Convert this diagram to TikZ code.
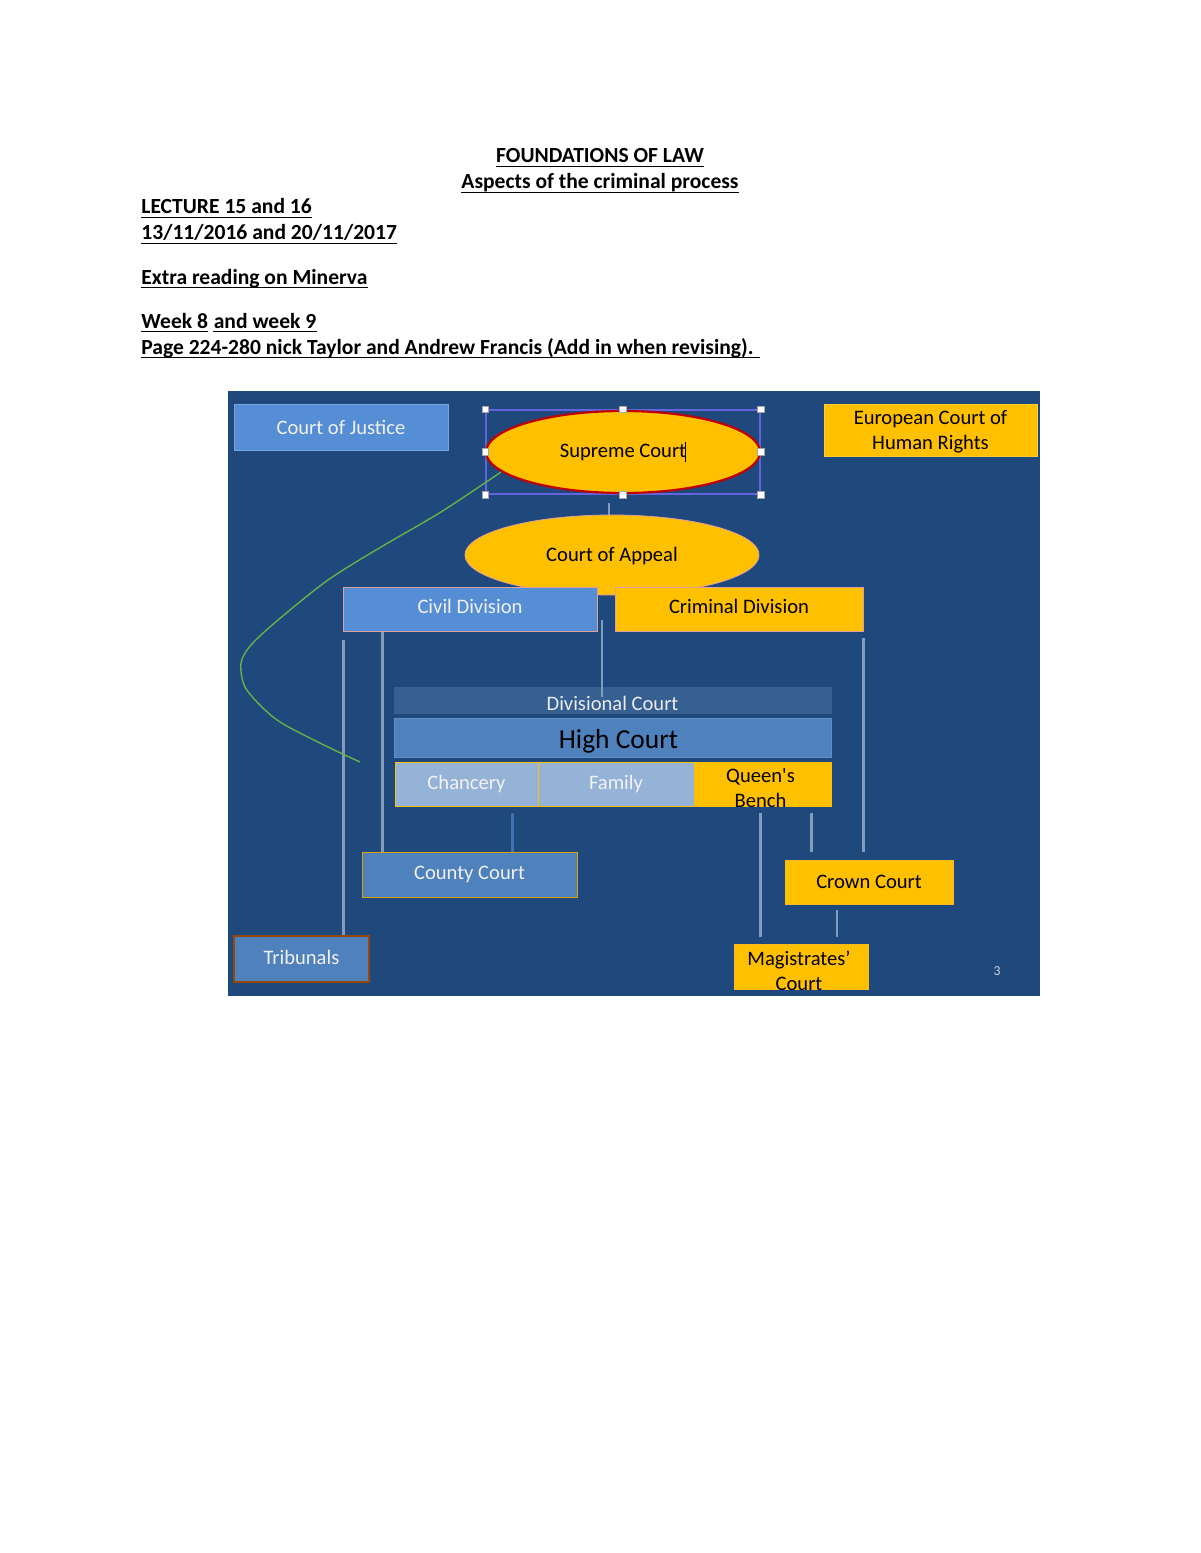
\documentclass[tikz,border=0pt]{standalone}
\usepackage{fontspec}
\setmainfont{Carlito}
\usetikzlibrary{positioning,calc,shapes.geometric}

\definecolor{slideblue}{RGB}{31,73,125}
\definecolor{lightblue}{RGB}{85,142,213}
\definecolor{courtblue}{RGB}{79,129,189}
\definecolor{divblue}{RGB}{54,96,146}
\definecolor{paleblue}{RGB}{149,179,215}
\definecolor{gold}{RGB}{255,192,0}
\definecolor{linkgrey}{RGB}{132,155,188}
\definecolor{rose}{RGB}{220,160,160}
\definecolor{darkred}{RGB}{192,0,0}
\definecolor{brownedge}{RGB}{151,72,6}
\definecolor{selblue}{RGB}{100,100,220}
\definecolor{freehand}{RGB}{100,180,70}

\begin{document}
\begin{tikzpicture}[x=0.51pt,y=-0.51pt,
    head/.style={anchor=base west, inner sep=0pt, font=\fontsize{11}{13}\selectfont\bfseries},
    box/.style={rectangle, draw, inner sep=0pt, align=center, font=\fontsize{10.5}{12.6}\selectfont},
    bluebox/.style={box, fill=courtblue, text=white!94!black},
    goldbox/.style={box, fill=gold, text=black},
    caption/.style={inner sep=0pt, align=center, font=\fontsize{10.5}{12.6}\selectfont},
    oval/.style={ellipse, draw, fill=gold, inner sep=0pt, font=\fontsize{10.5}{12.6}\selectfont},
    link/.style={draw=linkgrey, line width=1.2pt},
    handle/.style={rectangle, draw=gray!70, fill=white, inner sep=0pt, minimum size=3.4pt}
  ]
  \useasboundingbox (0,0) rectangle (1200,1553);
  \fill[white] (0,0) rectangle (1200,1553);

  \node[head, anchor=base] (title) at (600,163) {FOUNDATIONS OF LAW};
  \node[head, anchor=base] (subtitle) at (600,189) {Aspects of the criminal process};
  \node[head] (lecture) at (141,214) {LECTURE 15 and 16};
  \node[head] (dates) at (141,240) {13/11/2016 and 20/11/2017};
  \node[head] (extra) at (141,284) {Extra reading on Minerva};
  \node[head] (weeka) at (141,328) {Week 8};
  \node[head] (weekb) at ($(weeka.base east)+(5,0)$) {and week 9};
  \node[head] (pages) at (141,354) {Page 224-280 nick Taylor and Andrew Francis (Add in when revising).\rule{3pt}{0pt}};
  \foreach \n in {title, subtitle, lecture, dates, extra, weeka, weekb, pages}
    \draw[line width=0.6pt] ($(\n.base west)+(0,3.5)$) -- ($(\n.base east)+(0,3.5)$);

  \fill[slideblue] (228,391) rectangle (1040,996);

  \node[bluebox, fill=lightblue, draw=lightblue!80!white, minimum width=109.1pt, minimum height=23.5pt] (justice) at (341,427) {Court of Justice};
  \node[goldbox, draw=gold!80!white, minimum width=108.6pt, minimum height=26.5pt] (echr) at (930.5,430) {};
  \node[caption] at ($(echr.center)+(0,1.5)$) {European Court of\\Human Rights};

  \node[rectangle, draw=selblue, line width=0.8pt, minimum width=139.7pt, minimum height=42.8pt] (selbox) at (623,452) {};
  \node[oval, draw=darkred, line width=1.1pt, minimum width=139.7pt, minimum height=41.8pt] (supreme) at (623,452) {Supreme Court};
  \draw[black, line width=0.4pt] ($(supreme.center)+(62,-10)$) -- ++(0,20);
  \foreach \p in {north west, north, north east, west, east, south west, south, south east}
    \node[handle] at (selbox.\p) {};

  \coordinate (s1) at ($(supreme.south)+(-14,9)$);
  \draw[link] (s1) -- ++(0,18);
  \node[oval, draw=rose, minimum width=150pt, minimum height=40.8pt] (appeal) at (612,555) {};
  \node[caption] at ($(appeal.center)+(0,1)$) {Court of Appeal};

  \node[bluebox, fill=lightblue, draw=rose, minimum width=129.5pt, minimum height=22.4pt] (civil) at (470,609) {};
  \node[caption, text=white!94!black] at ($(civil.center)+(0,-3)$) {Civil Division};
  \node[goldbox, draw=rose, minimum width=126.5pt, minimum height=22.4pt] (criminal) at (739,609) {};
  \node[caption] at ($(criminal.center)+(0,-3)$) {Criminal Division};

  \node[box, fill=divblue, draw=divblue, minimum width=222.9pt, minimum height=13.3pt] (divisional) at (612.5,700) {};
  \node[caption, text=white!92!black] at ($(divisional.center)+(0,3)$) {Divisional Court};
  \node[box, fill=courtblue, draw=courtblue!90!white, minimum width=222.9pt, minimum height=19.9pt] (high) at (612.5,737.5) {};
  \node[caption, font=\fontsize{14}{16}\selectfont] at ($(high.center)+(6,3.5)$) {High Court};
  \node[box, fill=paleblue, draw=gold, text=white!95!black, minimum width=72.9pt, minimum height=22.4pt] (chancery) at (466.5,784) {Chancery};
  \node[box, fill=paleblue, draw=gold, text=white!95!black, minimum width=79.6pt, minimum height=22.4pt] (family) at (616,784) {Family};
  \node[goldbox, draw=gold, minimum width=69.9pt, minimum height=22.4pt] (queens) at (762.5,784) {};
  \node[caption] at ($(queens.center)+(-2,4)$) {Queen\textquotesingle s\\Bench};

  \node[bluebox, draw=gold!85!black, minimum width=109.7pt, minimum height=23pt] (county) at (469.5,874.5) {County Court};
  \node[goldbox, draw=gold!80!rose, minimum width=85.7pt, minimum height=22.4pt] (crown) at (869,882) {Crown Court};
  \node[goldbox, draw=gold!80!rose, minimum width=68.3pt, minimum height=23pt] (magistrates) at (801,966.5) {};
  \node[caption] at ($(magistrates.center)+(-2,4)$) {Magistrates'\\Court};
  \node[bluebox, draw=brownedge, line width=1.1pt, minimum width=68.9pt, minimum height=23.5pt] (tribunals) at (301.5,959) {};
  \node[caption, text=white!94!black] at ($(tribunals.center)+(0,-2)$) {Tribunals};

  \coordinate (c1) at ($(civil.south west)+(1,9)$);
  \draw[link] (c1) -- (c1 |- tribunals.north);
  \coordinate (c2) at ($(civil.south west)+(40,1)$);
  \draw[link] (c2) -- (c2 |- county.north);
  \coordinate (a1) at ($(appeal.south)+(-10,25)$);
  \draw[link] (a1) -- ($(a1 |- divisional.center)+(0,-3)$);
  \coordinate (k1) at ($(criminal.south east)+(0,7)$);
  \draw[link] (k1) -- ($(k1 |- crown.north)+(0,-8)$);
  \coordinate (h1) at ($(chancery.south east)+(-26,7)$);
  \draw[draw=lightblue!60!slideblue, line width=1.2pt] (h1) -- (h1 |- county.north);
  \coordinate (q1) at ($(queens.south)+(-2,7)$);
  \draw[link] (q1) -- ($(q1 |- magistrates.north)+(0,-7)$);
  \coordinate (q2) at ($(queens.south)+(49,7)$);
  \draw[link] (q2) -- ($(q2 |- crown.north)+(0,-8)$);
  \coordinate (w1) at ($(crown.south)+(-32,6)$);
  \draw[link] (w1) -- ($(w1 |- magistrates.north)+(0,-7)$);

  \draw[freehand, line width=0.7pt] plot[smooth] coordinates {(501,472) (441,512) (381,547) (328,580) (278,620) (251,645) (241,663) (245,687) (265,710) (285,725) (328,747) (360,762)};

  \node[font=\fontsize{7}{8}\selectfont, text=white!75!slideblue] (pagenum) at (997,971) {3};
\end{tikzpicture}
\end{document}
